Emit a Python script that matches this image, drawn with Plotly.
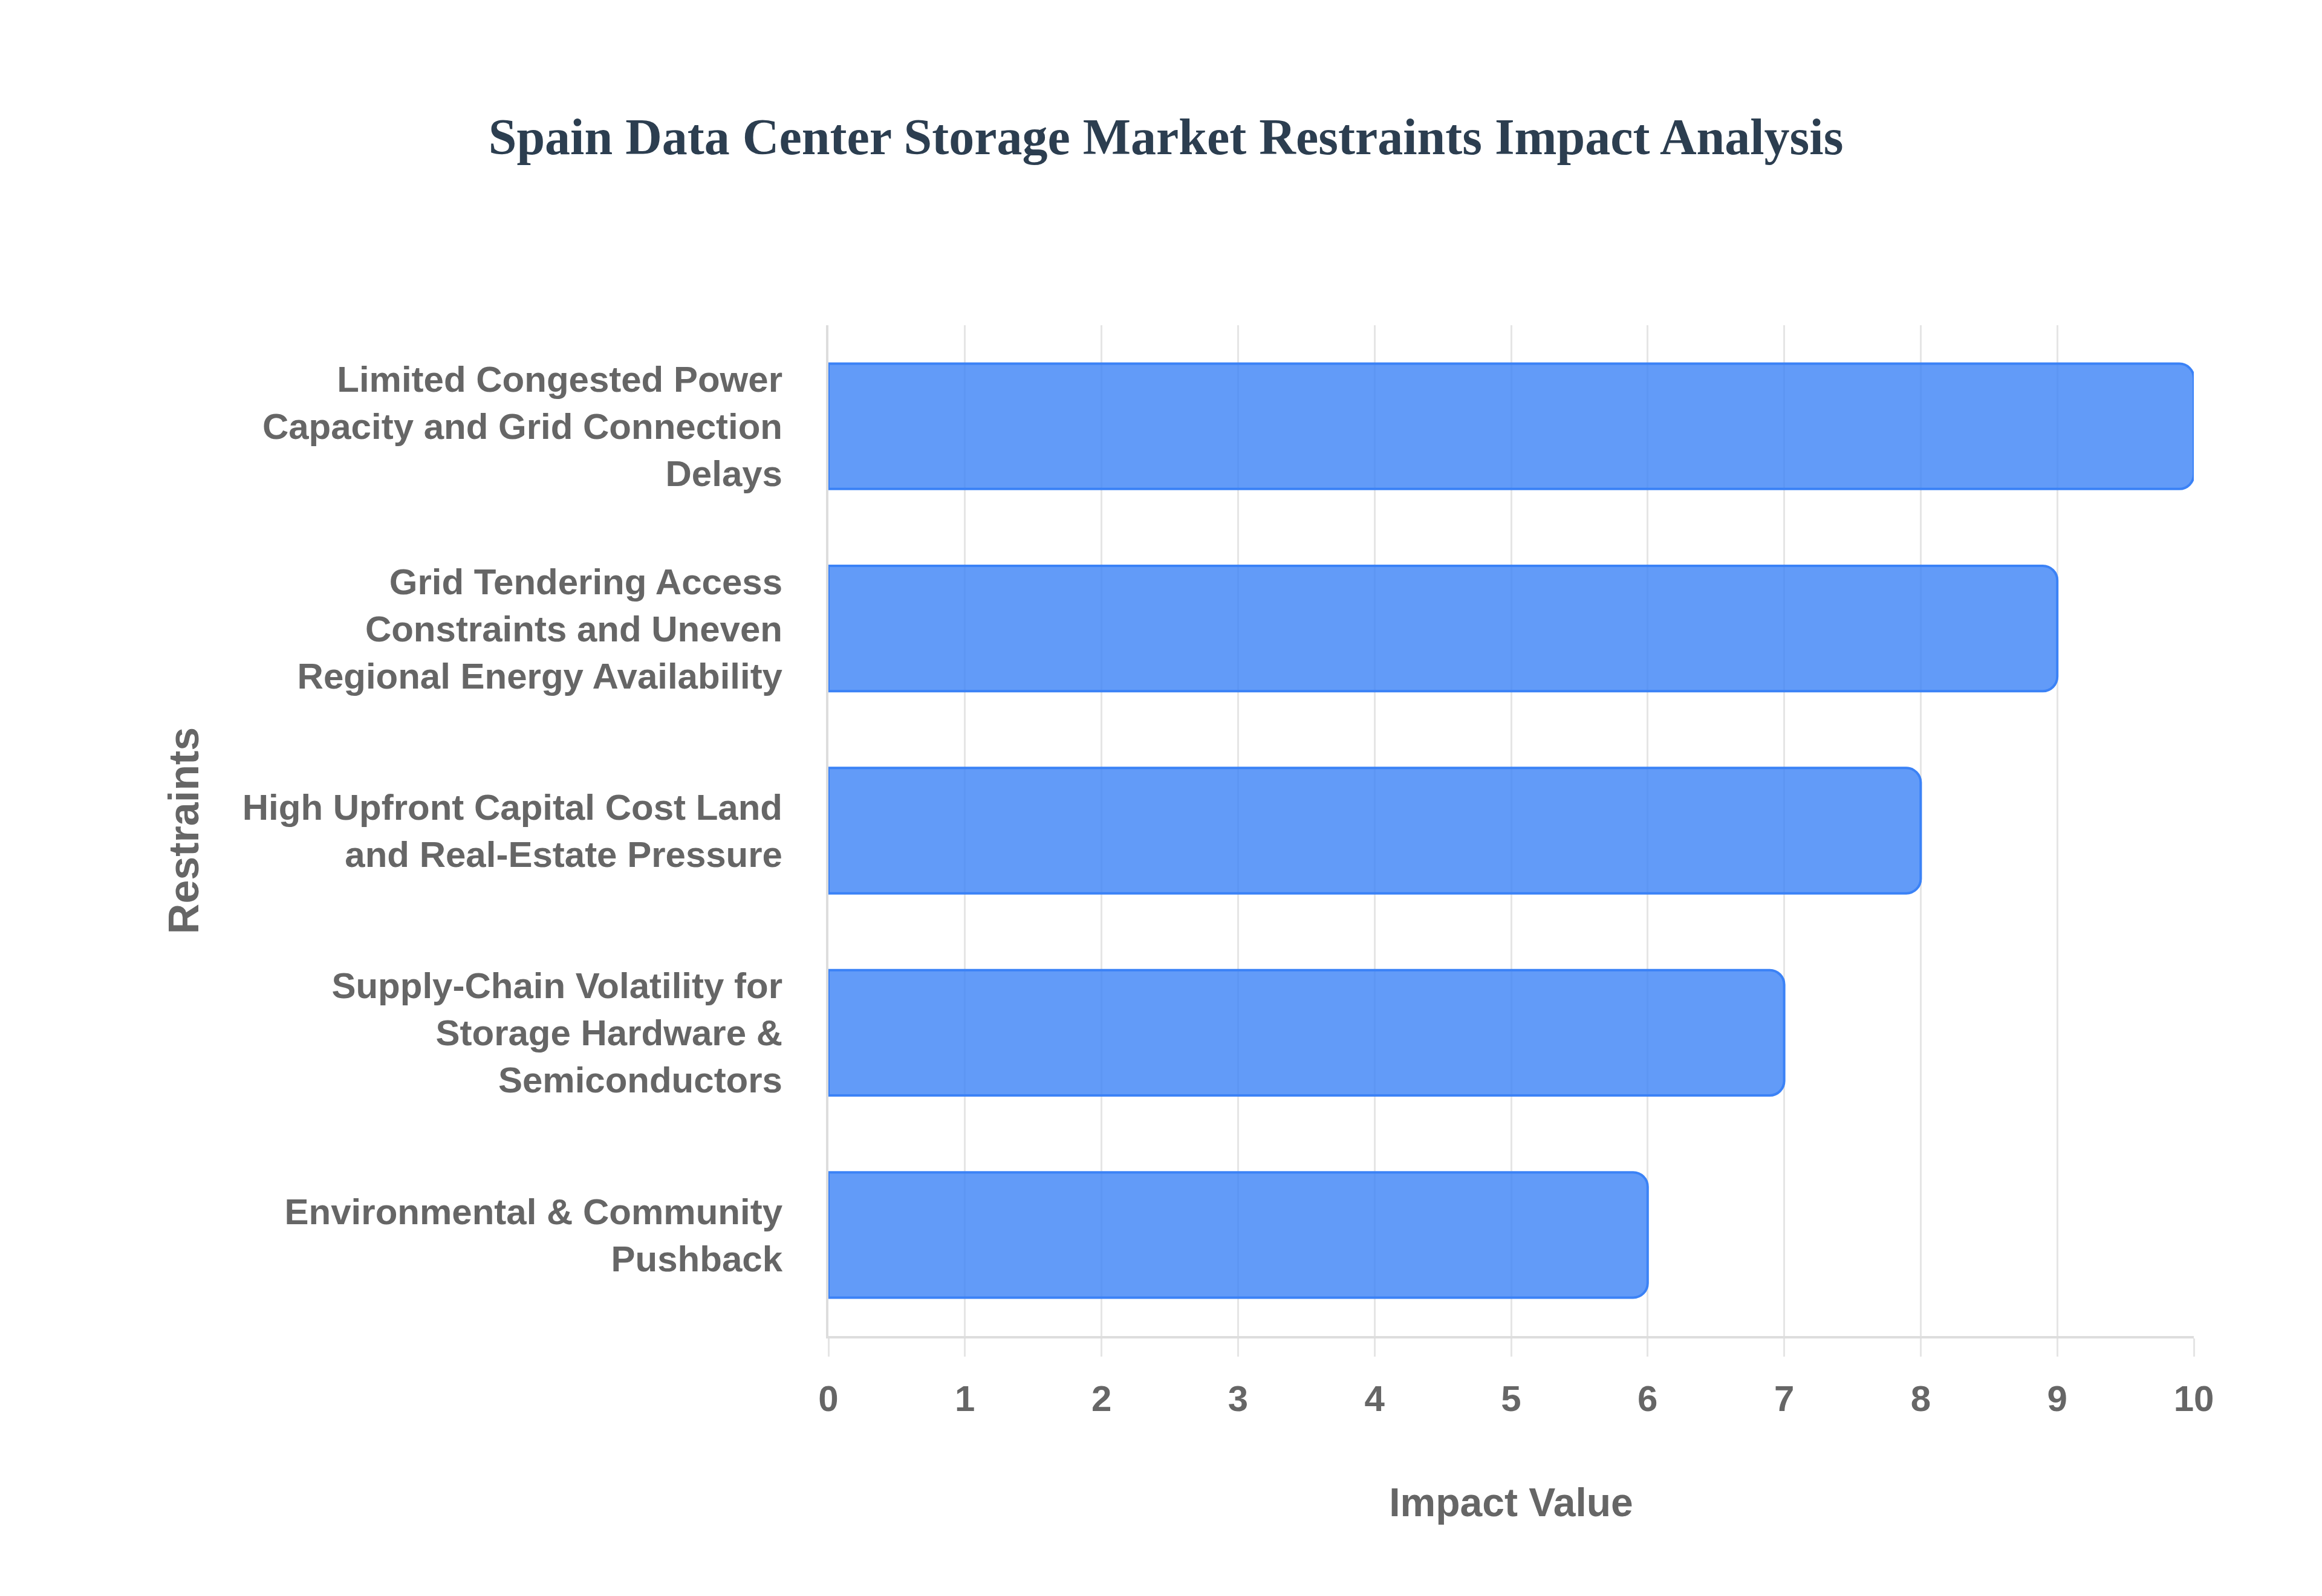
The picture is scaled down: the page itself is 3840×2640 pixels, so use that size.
import plotly.graph_objs as go

# data
restraints = [
    "Limited Congested Power<br>Capacity and Grid Connection<br>Delays",
    "Grid Tendering Access<br>Constraints and Uneven<br>Regional Energy Availability",
    "High Upfront Capital Cost Land<br>and Real-Estate Pressure",
    "Supply-Chain Volatility for<br>Storage Hardware &<br>Semiconductors",
    "Environmental & Community<br>Pushback",
]
impact_values = [10, 9, 8, 7, 6]
x_ticks = list(range(0, 11))

SANS = "Liberation Sans, Arial, sans-serif"
GREY = "#666666"

fig = go.Figure()
fig.add_trace(go.Bar(
    x=impact_values,
    y=restraints,
    orientation="h",
    width=0.62,
    marker=dict(
        color="rgba(59,130,246,0.8)",
        line=dict(color="#3b82f6", width=4),
        cornerradius=24,
    ),
    showlegend=False,
))

fig.update_layout(
    width=3840,
    height=2640,
    paper_bgcolor="white",
    plot_bgcolor="white",
    margin=dict(l=1362, r=220, t=530, b=438, pad=0),
    title=dict(
        text="Spain Data Center Storage Market Restraints Impact Analysis",
        x=0.5, xanchor="center",
        y=1 - 218 / 2640, yanchor="middle",
        font=dict(family="Liberation Serif, Times New Roman, serif", size=84,
                  color="#2c3e50", weight="bold"),
    ),
)

fig.update_xaxes(
    range=[0, 10],
    tickvals=x_ticks,
    showgrid=True,
    gridcolor="#e5e5e5",
    gridwidth=3,
    showline=True,
    linecolor="#dddddd",
    linewidth=4,
    zeroline=False,
    ticks="outside",
    ticklen=30,
    tickwidth=3,
    tickcolor="#e5e5e5",
    ticklabelstandoff=18,
    tickfont=dict(family=SANS, size=60, color=GREY, weight="bold"),
    title=dict(text="Impact Value", standoff=117,
               font=dict(family=SANS, size=66, color=GREY, weight="bold")),
)

fig.update_yaxes(
    autorange="reversed",
    showgrid=False,
    showline=True,
    linecolor="#dddddd",
    linewidth=4,
    ticks="",
    ticklabelstandoff=60,
    tickfont=dict(family=SANS, size=60, color=GREY, weight="bold"),
    title=dict(text="Restraints", standoff=50,
               font=dict(family=SANS, size=70, color=GREY, weight="bold")),
)

fig.write_html("out.html")
